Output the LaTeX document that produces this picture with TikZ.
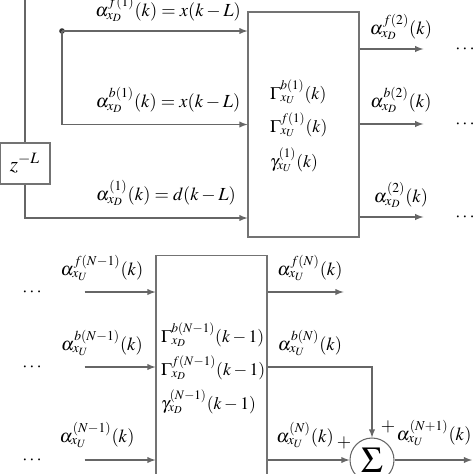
\documentclass[tikz,border=0pt]{standalone}
\usepackage{amsmath}
\usepackage{amssymb}
\usepackage{mathptmx}
\usetikzlibrary{positioning}
\tikzset{
	wire/.style={draw=black!60, line width=0.6pt},
	feed/.style={wire, -latex},
	blk/.style={draw=black!55, line width=0.6pt, rectangle, inner sep=0pt},
	lbl/.style={inner sep=1pt, font=\fontsize{10.5}{12}\selectfont},
	inlbl/.style={inner sep=1pt, anchor=west, font=\fontsize{10}{12}\selectfont},
}

\begin{document}
\begin{tikzpicture}[x=0.02cm, y=-0.02cm]
	\useasboundingbox (0,0) rectangle (474,474);
	\clip (0,0) rectangle (474,474);
	
	% delay and tap
	\node[blk, minimum width=1cm, minimum height=0.82cm, font=\large] (delay) at (25,163.5) {$z^{-L}$};
	\coordinate (feedTop) at (25,-10);
	\coordinate (tap) at (62,31);
	\fill[black!80] (tap) circle (1.6pt);
	\draw[wire] (feedTop) -- (delay.north);
	
	% first stage
	\node[blk, minimum width=2.22cm, minimum height=4.5cm] (stageA) at (303.5,124.5) {};
	\coordinate (inA3) at (stageA.west |- 0,218);
	\draw[feed] (tap) -- (tap -| stageA.west);
	\draw[feed] (tap) |- (stageA.west);
	\draw[feed] (delay.south) |- (inA3);
	
	\node[lbl] (afA) at (168,9) {$\alpha_{x_D}^{f(1)}(k)=x(k-L)$};
	\node[lbl] (abA) at (168,100) {$\alpha_{x_D}^{b(1)}(k)=x(k-L)$};
	\node[lbl] (adA) at (166,193) {$\alpha_{x_D}^{(1)}(k)=d(k-L)$};
	
	\node[inlbl] (gbA) at (268,92) {$\Gamma_{x_U}^{b(1)}(k)$};
	\node[inlbl] (gfA) at (268,125) {$\Gamma_{x_U}^{f(1)}(k)$};
	\node[inlbl] (ggA) at (268,160) {$\gamma_{x_U}^{(1)}(k)$};
	
	\foreach \i/\yy in {1/49,2/124,3/217} {
		\coordinate (outA\i) at (stageA.east |- 0,\yy);
		\node[lbl] (dotA\i) at (466,\yy) {$\cdots$};
		\draw[feed] (outA\i) -- ([xshift=-17pt]dotA\i.west);
	}
	\node[lbl] (afB) at (401,27) {$\alpha_{x_D}^{f(2)}(k)$};
	\node[lbl] (abB) at (401,100) {$\alpha_{x_D}^{b(2)}(k)$};
	\node[lbl] (adB) at (401,195) {$\alpha_{x_D}^{(2)}(k)$};
	
	% last stage
	\node[blk, minimum width=2.22cm, minimum height=5.3cm] (stageN) at (211.5,387.5) {};
	\foreach \i/\yy in {1/292,2/367,3/460} {
		\coordinate (inN\i) at (stageN.west |- 0,\yy);
		\coordinate (outN\i) at (stageN.east |- 0,\yy);
		\node[lbl] (dotN\i) at (33,\yy) {$\cdots$};
		\draw[feed] ([xshift=22pt]dotN\i.east) -- (inN\i);
	}
	\node[lbl] (afN) at (102,268) {$\alpha_{x_U}^{f(N-1)}(k)$};
	\node[lbl] (abN) at (102,343) {$\alpha_{x_U}^{b(N-1)}(k)$};
	\node[lbl] (adN) at (97,435) {$\alpha_{x_U}^{(N-1)}(k)$};
	
	\node[inlbl] (gbN) at (159,335) {$\Gamma_{x_D}^{b(N-1)}(k-1)$};
	\node[inlbl] (gfN) at (159,368) {$\Gamma_{x_D}^{f(N-1)}(k-1)$};
	\node[inlbl] (ggN) at (159,402) {$\gamma_{x_D}^{(N-1)}(k-1)$};
	
	% summing junction
	\node[draw=black!60, line width=0.6pt, circle, minimum size=0.88cm, inner sep=0pt] (sum) at (372,460) {\huge$\Sigma$};
	\coordinate (outEnd) at (472,460);
	\draw[feed] (outN1) -- ++(76,0);
	\draw[feed] (outN2) -| (sum.north);
	\draw[feed] (outN3) -- (sum.west);
	\draw[feed] (sum.east) -- (outEnd);
	
	\node[lbl] (afO) at (310,268) {$\alpha_{x_U}^{f(N)}(k)$};
	\node[lbl] (abO) at (310,343) {$\alpha_{x_U}^{b(N)}(k)$};
	\node[lbl] (adO) at (305,435) {$\alpha_{x_U}^{(N)}(k)$};
	\node[lbl] (plusL) at (344,443) {$+$};
	\node[lbl] (plusT) at (388,427) {$+$};
	\node[lbl] (sumOut) at (434,433) {$\alpha_{x_U}^{(N+1)}(k)$};
	
\end{tikzpicture}
\end{document}
